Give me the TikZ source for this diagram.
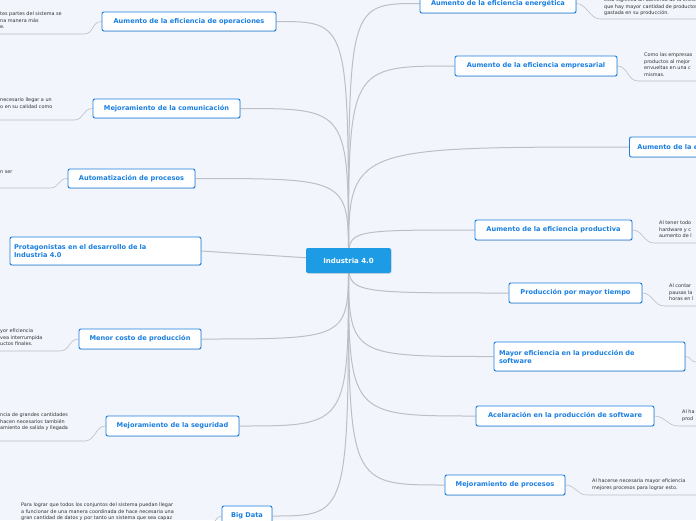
\documentclass[tikz,border=0pt]{standalone}
\usepackage{fontspec}
\setmainfont{DejaVu Sans}
\usetikzlibrary{backgrounds,shadows}
\definecolor{bg}{HTML}{F2F5FC}
\definecolor{mblue}{HTML}{1A7FE0}
\definecolor{cblue}{HTML}{1E9BE5}
\definecolor{conn}{HTML}{BDBFC4}
\definecolor{notec}{HTML}{333333}
\tikzset{
  box/.style={draw=mblue, line width=0.9pt, fill=white, rounded corners=2pt, text=mblue,
    font=\fontsize{6.6}{8.2}\selectfont\bfseries, inner sep=0pt, drop shadow={shadow xshift=0.6pt, shadow yshift=-0.8pt, opacity=0.25}},
  cbox/.style={fill=cblue, rounded corners=2pt, text=white, font=\fontsize{7}{8.5}\selectfont\bfseries, inner sep=0pt,
    drop shadow={shadow xshift=0.6pt, shadow yshift=-0.8pt, opacity=0.25}},
  note/.style={text=notec, font=\fontsize{4.9}{6.5}\selectfont, align=left, inner sep=0pt},
  cline/.style={draw=conn, line width=1pt},
  uline/.style={draw=conn, line width=0.6pt}
}
\begin{document}
\begin{tikzpicture}[x=1pt,y=-1pt]
\useasboundingbox (0,0) rectangle (696,520);
\clip (0,0) rectangle (696,520);
% center
\node[cbox, minimum width=85, minimum height=25] (c) at (348.5,260.5) {Industria 4.0};
% left
\node[box, minimum width=174, minimum height=19] (l1) at (189,21.5) {Aumento de la eficiencia de operaciones};
\node[box, minimum width=147, minimum height=19] (l2) at (166.5,108.5) {Mejoramiento de la comunicación};
\node[box, minimum width=127, minimum height=19] (l3) at (131.5,178.5) {Automatización de procesos};
\node[box, minimum width=191, minimum height=28, text width=183, align=left] (l4) at (105.5,251) {Protagonistas en el desarrollo de la\\Industria 4.0};
\node[box, minimum width=122, minimum height=20] (l5) at (140,339) {Menor costo de producción};
\node[box, minimum width=133, minimum height=20] (l6) at (172.5,426) {Mejoramiento de la seguridad};
\node[box, minimum width=50, minimum height=20] (l7) at (247,516) {Big Data};
% right
\node[box, minimum width=156, minimum height=19] (r1) at (498,3.5) {Aumento de la eficiencia energética};
\node[box, minimum width=162, minimum height=20] (r2) at (536,66) {Aumento de la eficiencia empresarial};
\node[box, minimum height=20, anchor=west, inner xsep=8pt] (r3) at (629,147) {Aumento de la eficiencia};
\node[box, minimum width=157, minimum height=20] (r4) at (553.5,230) {Aumento de la eficiencia productiva};
\node[box, minimum width=133, minimum height=20] (r5) at (575.5,293) {Producción por mayor tiempo};
\node[box, minimum width=191, minimum height=29, text width=181, align=left] (r6) at (589.5,356.5) {Mayor eficiencia en la producción de\\software};
\node[box, minimum width=178, minimum height=20] (r7) at (565,416) {Acelaración en la producción de software};
\node[box, minimum width=120, minimum height=20] (r8) at (505,485) {Mejoramiento de procesos};
% notes
\node[note, anchor=north west] (n1) at (0,12) {tes partes del sistema se\\na manera más\\e.};
\node[note, anchor=north west] (n2) at (0,98) {necesario llegar a un\\o en su calidad como};
\node[note, anchor=north west] (n3) at (0,171) {n ser};
\node[note, anchor=north west] (n5) at (0,329) {yor eficiencia\\ vea interrumpida\\uctos finales.};
\node[note, anchor=north west] (n6) at (0,413) {ncia de grandes cantidades\\ hacen necesarios también\\amiento de salida y llegada};
\node[note, anchor=north west] (n7) at (21,503) {Para lograr que todos los conjuntos del sistema puedan llegar\\a funcionar de una manera coordinada de hace necesaria una\\gran cantidad de datos y por tanto un sistema que sea capaz};
\node[note, anchor=north west] (m1) at (604,-2) {esto significa un aumento de la eficiencia\\que hay mayor cantidad de productos\\gastada en su producción.};
\node[note, anchor=north west] (m2) at (644,53) {Como las empresas\\productos al mejor\\envueltas en una c\\mismas.};
\node[note, anchor=north west] (m4) at (659,221) {Al tener todo\\hardware y c\\aumento de l};
\node[note, anchor=north west] (m5) at (669,284) {Al contar\\pausas la\\horas en l};
\node[note, anchor=north west] (m7) at (682,410) {Al ha\\prod};
\node[note, anchor=north west] (m8) at (592,479) {Al hacerse necesaria mayor eficiencia\\mejores procesos para lograr esto.};
\begin{scope}[on background layer]
\fill[bg] (0,0) rectangle (696,520);
\foreach \n in {l1,l2,l3,l5,l6,l7}{
  \draw[cline] (c.center) .. controls (c.center |- \n.east) .. (\n.east);}
\draw[cline] (c.center) -- (l4.east);
\foreach \n in {r1,r2,r3,r4,r5,r6,r7,r8}{
  \draw[cline] (c.center) .. controls (c.center |- \n.west) .. (\n.west);}
% underlines
\draw[uline] (l1.west) .. controls +(-10,0) and +(10,0) .. (84,34) -- (0,34);
\draw[uline] (l2.west) .. controls +(-10,0) and +(10,0) .. (74,120) -- (0,120);
\draw[uline] (l3.west) .. controls +(-10,0) and +(10,0) .. (50,188) -- (0,188);
\draw[uline] (l5.west) .. controls +(-10,0) and +(10,0) .. (60,351) -- (0,351);
\draw[uline] (l6.west) .. controls +(-10,0) and +(10,0) .. (85,441) -- (0,441);
\draw[uline] (l7.west) .. controls +(-6,0) and +(6,0) .. (210,524);
\draw[uline] (r1.east) .. controls +(10,0) and +(-10,0) .. (600,19) -- (696,19);
\draw[uline] (r2.east) .. controls +(10,0) and +(-10,0) .. (638,81) -- (696,81);
\draw[uline] (r4.east) .. controls +(10,0) and +(-10,0) .. (654,243) -- (696,243);
\draw[uline] (r5.east) .. controls +(10,0) and +(-10,0) .. (664,306) -- (696,306);
\draw[uline] (r6.east) .. controls +(6,0) and +(-6,0) .. (696,362);
\draw[uline] (r7.east) .. controls +(10,0) and +(-10,0) .. (678,426) -- (696,426);
\draw[uline] (r8.east) .. controls +(10,0) and +(-10,0) .. (587,495) -- (696,495);
\end{scope}
\end{tikzpicture}
\end{document}
